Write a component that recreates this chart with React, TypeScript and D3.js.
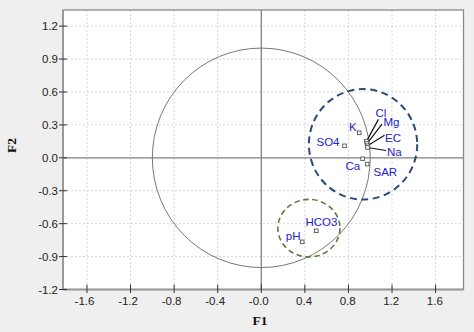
import React from "react";
import * as d3 from "d3";

const W = 474;
const H = 332;

// variables (loadings on F1, F2)
const varNames = ["K", "SO4", "Cl", "Mg", "EC", "Na", "Ca", "SAR", "HCO3", "pH"];
const f1Values = [0.899, 0.764, 0.965, 0.97, 0.975, 0.975, 0.93, 0.972, 0.505, 0.376];
const f2Values = [0.228, 0.109, 0.15, 0.13, 0.11, 0.094, -0.009, -0.057, -0.665, -0.766];

const xTicks = [-1.6, -1.2, -0.8, -0.4, 0.0, 0.4, 0.8, 1.2, 1.6];
const yTicks = [-1.2, -0.9, -0.6, -0.3, 0.0, 0.3, 0.6, 0.9, 1.2];
const xTickLabels = ["-1.6", "-1.2", "-0.8", "-0.4", "-0.0", "0.4", "0.8", "1.2", "1.6"];
const yTickLabels = ["-1.2", "-0.9", "-0.6", "-0.3", "0.0", "0.3", "0.6", "0.9", "1.2"];

// group circles: centre F1, centre F2, radius F1, radius F2
const groupCx = [0.934, 0.437];
const groupCy = [0.123, -0.641];
const groupRx = [0.497, 0.285];
const groupRy = [0.503, 0.262];

// label layout (pixel offsets from the point), anchor, leader line
const labelLayout: Record<string, { dx: number; dy: number; anchor: string; leader?: [number, number] }> = {
  K: { dx: -2.5, dy: -2, anchor: "end" },
  SO4: { dx: -5, dy: 0.5, anchor: "end" },
  Cl: { dx: 9, dy: -24.8, anchor: "start", leader: [12, -22] },
  Mg: { dx: 16.5, dy: -17.3, anchor: "start", leader: [15, -19.5] },
  EC: { dx: 17.5, dy: -3.5, anchor: "start", leader: [17, -10.5] },
  Na: { dx: 19.5, dy: 8.2, anchor: "start", leader: [18.5, 3] },
  Ca: { dx: -2.5, dy: 11, anchor: "end" },
  SAR: { dx: 6.3, dy: 12, anchor: "start" },
  HCO3: { dx: -10.8, dy: -5, anchor: "start" },
  pH: { dx: -1.8, dy: -1.7, anchor: "end" },
};

const plotL = 63;
const plotR = 463.5;
const plotT = 10;
const plotB = 289.5;

export default function App() {
  const x = d3.scaleLinear().domain([-1.82, 1.856]).range([plotL, plotR]);
  const y = d3.scaleLinear().domain([-1.2, 1.347]).range([plotB, plotT]);

  const font = "'Liberation Sans', Arial, sans-serif";
  const blue = "#2222cc";

  return (
    <svg
      width={W}
      height={H}
      style={{ position: "absolute", left: 0, top: 0, background: "#efefef" }}
    >
      <rect x={0} y={0} width={W} height={H} fill="#efefef" />
      <rect x={plotL} y={plotT} width={plotR - plotL} height={plotB - plotT} fill="#ffffff" />
      {/* grid */}
      {xTicks.filter((t) => t !== 0).map((t) => (
        <line key={"gx" + t} x1={x(t)} x2={x(t)} y1={plotT} y2={plotB} stroke="#d6d6d6" strokeWidth={1} strokeDasharray="2,2" />
      ))}
      {yTicks.filter((t) => t !== 0).map((t) => (
        <line key={"gy" + t} x1={plotL} x2={plotR} y1={y(t)} y2={y(t)} stroke="#d6d6d6" strokeWidth={1} strokeDasharray="2,2" />
      ))}
      {/* zero lines */}
      <line x1={x(0)} x2={x(0)} y1={plotT} y2={plotB} stroke="#808080" strokeWidth={1.3} />
      <line x1={plotL} x2={plotR} y1={y(0)} y2={y(0)} stroke="#808080" strokeWidth={1.3} />
      {/* unit circle */}
      <ellipse cx={x(0)} cy={y(0)} rx={x(1) - x(0)} ry={y(0) - y(1)} fill="none" stroke="#777777" strokeWidth={1} />
      {/* group circles */}
      <ellipse cx={x(groupCx[0])} cy={y(groupCy[0])} rx={x(groupRx[0]) - x(0)} ry={y(0) - y(groupRy[0])} fill="none" stroke="#2b4a7a" strokeWidth={2} strokeDasharray="7,4.5" />
      <ellipse cx={x(groupCx[1])} cy={y(groupCy[1])} rx={x(groupRx[1]) - x(0)} ry={y(0) - y(groupRy[1])} fill="none" stroke="#5a7a3e" strokeWidth={1.6} strokeDasharray="5.5,3.5" />
      {/* leader lines */}
      {varNames.map((n, i) => {
        const l = labelLayout[n];
        if (!l.leader) return null;
        return (
          <line key={"ld" + n} x1={x(f1Values[i])} y1={y(f2Values[i])} x2={x(f1Values[i]) + l.leader[0]} y2={y(f2Values[i]) + l.leader[1]} stroke="#111111" strokeWidth={1.2} />
        );
      })}
      {/* points */}
      {varNames.map((n, i) => (
        <rect key={"p" + n} x={x(f1Values[i]) - 1.8} y={y(f2Values[i]) - 1.8} width={3.6} height={3.6} fill="#ffffff" stroke="#555555" strokeWidth={0.9} />
      ))}
      {/* labels */}
      {varNames.map((n, i) => {
        const l = labelLayout[n];
        return (
          <text key={"t" + n} x={x(f1Values[i]) + l.dx} y={y(f2Values[i]) + l.dy} textAnchor={l.anchor} fontFamily={font} fontSize={11.5} fill={blue}>
            {n}
          </text>
        );
      })}
      {/* frame */}
      <rect x={plotL} y={plotT} width={plotR - plotL} height={plotB - plotT} fill="none" stroke="#8a8a8a" strokeWidth={1.3} />
      <line x1={plotL} x2={plotL} y1={plotT} y2={plotB} stroke="#999999" strokeWidth={2} />
      <line x1={plotL} x2={plotR} y1={plotB} y2={plotB} stroke="#999999" strokeWidth={2} />
      {/* ticks */}
      {xTicks.map((t, i) => (
        <g key={"xt" + t}>
          <line x1={x(t)} x2={x(t)} y1={plotB - 5} y2={plotB + 3.5} stroke="#333333" strokeWidth={1} />
          <text x={x(t) - (xTickLabels[i].startsWith("-") ? 2.5 : 0.8)} y={304.5} textAnchor="middle" fontFamily={font} fontSize={11.5} fill="#222222">
            {xTickLabels[i]}
          </text>
        </g>
      ))}
      {yTicks.map((t, i) => (
        <g key={"yt" + t}>
          <line x1={plotL - 4} x2={plotL + 4} y1={y(t)} y2={y(t)} stroke="#333333" strokeWidth={1} />
          <text x={58} y={y(t) + 4.2} textAnchor="end" fontFamily={font} fontSize={11.5} fill="#222222">
            {yTickLabels[i]}
          </text>
        </g>
      ))}
      {/* axis titles */}
      <text x={260} y={325.3} textAnchor="middle" fontFamily="'Liberation Serif', 'Times New Roman', serif" fontWeight="bold" fontSize={13.5} fill="#111111">
        F1
      </text>
      <text transform="translate(16.3,145.5) rotate(-90)" textAnchor="middle" fontFamily="'Liberation Serif', 'Times New Roman', serif" fontWeight="bold" fontSize={13.5} fill="#111111">
        F2
      </text>
    </svg>
  );
}
